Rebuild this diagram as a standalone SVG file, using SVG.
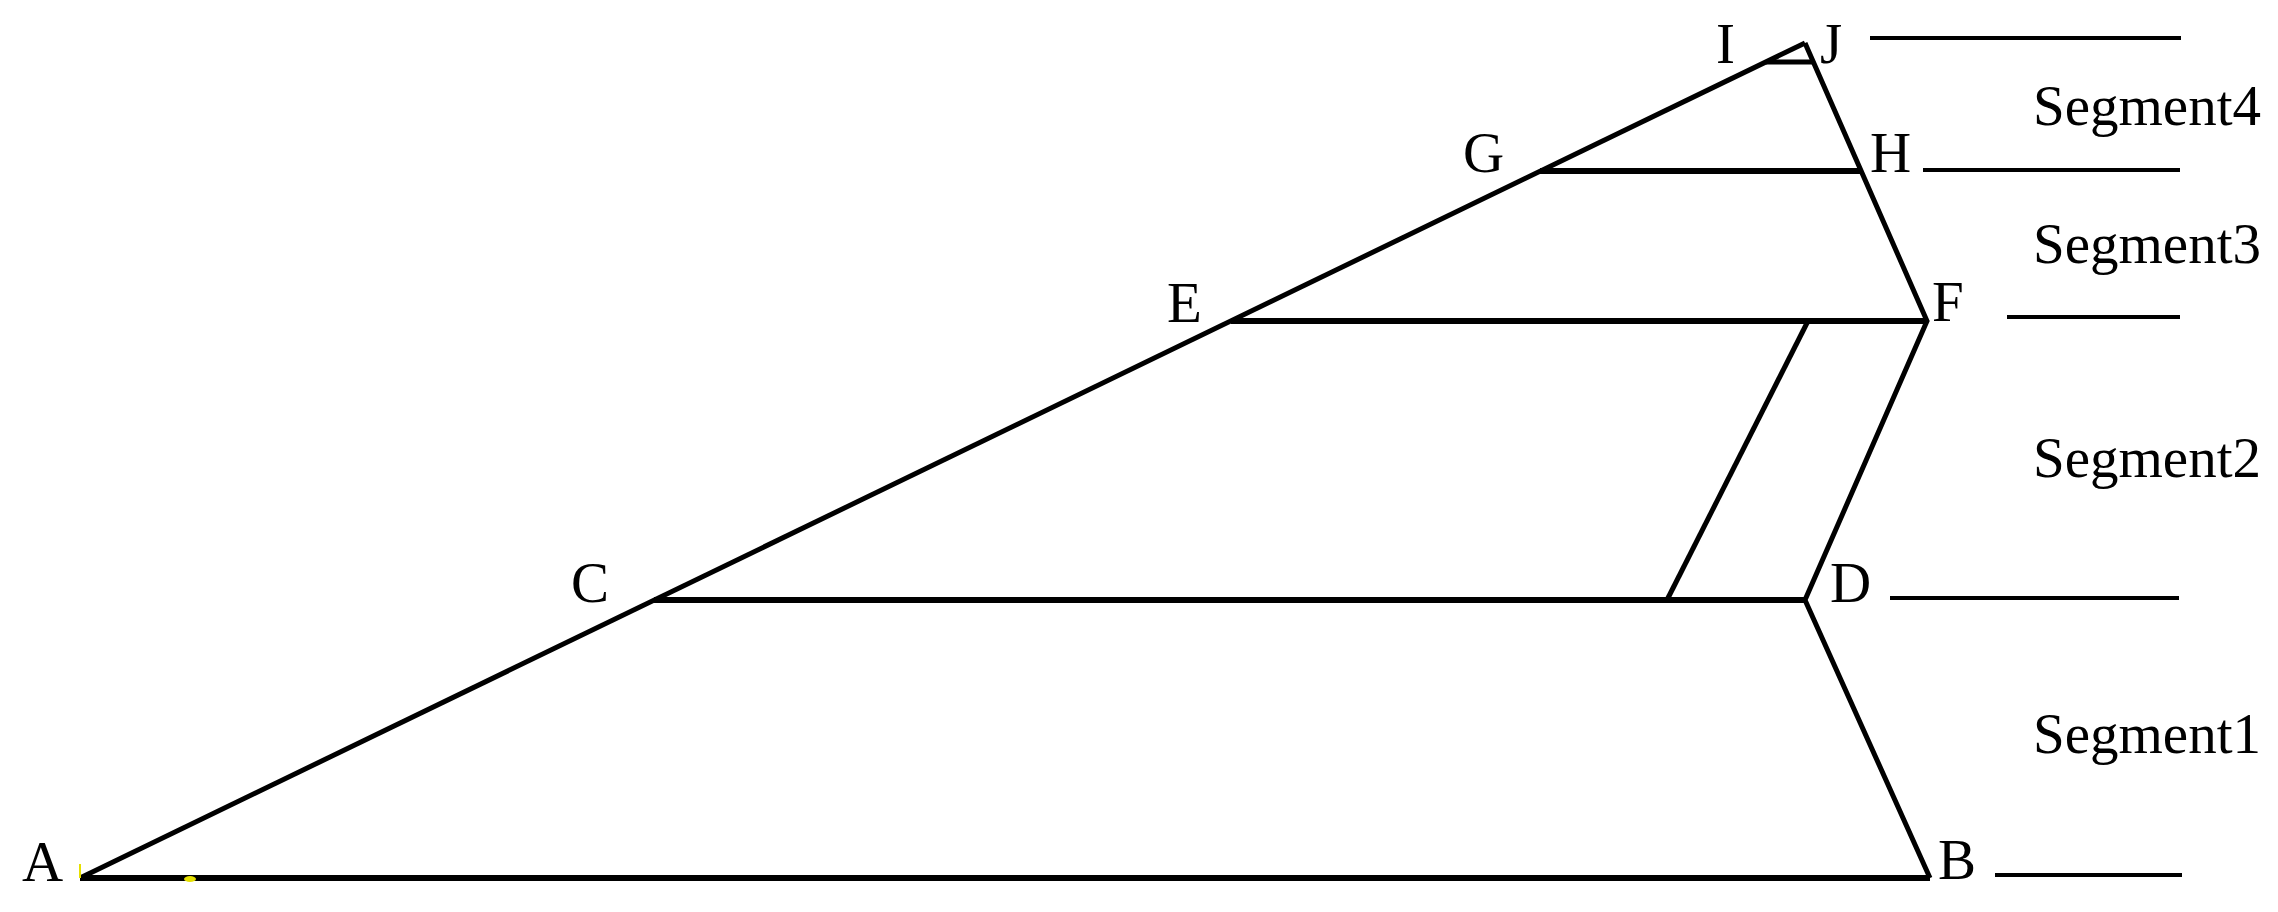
<svg xmlns="http://www.w3.org/2000/svg" width="2278" height="912" viewBox="0 0 2278 912">
<style>
.lbl{font-family:"Liberation Serif","Times New Roman",serif;font-size:57px;fill:#000}
.thick{stroke:#000;stroke-width:6;fill:none;stroke-linecap:butt}
.edge{stroke:#000;stroke-width:5;fill:none;stroke-linejoin:miter}
.tick{stroke:#000;stroke-width:4;fill:none}
</style>
<rect width="2278" height="912" fill="#fff"/>
<g id="connectors">
  <line class="thick" x1="80" y1="878" x2="1930" y2="878"/>
  <line class="thick" x1="654" y1="600" x2="1805" y2="600"/>
  <line class="thick" x1="1231" y1="321" x2="1927" y2="321"/>
  <line class="thick" x1="1540" y1="171" x2="1861" y2="171"/>
  <line class="edge" x1="1766" y1="62" x2="1812" y2="62"/>
  <line class="edge" x1="80" y1="878" x2="1805" y2="43"/>
  <polyline class="edge" points="1805,43 1927,321 1805,600 1930,878"/>
  <line class="edge" x1="1667" y1="600" x2="1808" y2="321"/>
</g>
<g id="ticks">
  <line class="tick" x1="1870" y1="38" x2="2181" y2="38"/>
  <line class="tick" x1="1923" y1="170" x2="2180" y2="170"/>
  <line class="tick" x1="2007" y1="317" x2="2180" y2="317"/>
  <line class="tick" x1="1890" y1="598" x2="2179" y2="598"/>
  <line class="tick" x1="1995" y1="875" x2="2182" y2="875"/>
</g>
<g id="artifacts">
  <line x1="80" y1="864" x2="80" y2="878" stroke="#e6e000" stroke-width="2"/>
  <ellipse cx="190" cy="879" rx="6" ry="3" fill="#e6e000"/>
</g>
<g id="node-A"><text class="lbl" x="22" y="881">A</text></g>
<g id="node-B"><text class="lbl" x="1938" y="879">B</text></g>
<g id="node-C"><text class="lbl" x="571" y="602">C</text></g>
<g id="node-D"><text class="lbl" x="1830" y="602">D</text></g>
<g id="node-E"><text class="lbl" x="1167" y="322">E</text></g>
<g id="node-F"><text class="lbl" x="1932" y="321">F</text></g>
<g id="node-G"><text class="lbl" x="1463" y="172">G</text></g>
<g id="node-H"><text class="lbl" x="1870" y="172">H</text></g>
<g id="node-I"><text class="lbl" x="1716" y="63">I</text></g>
<g id="node-J"><text class="lbl" x="1820" y="63">J</text></g>
<g id="segments">
  <text class="lbl" x="2033" y="125">Segment4</text>
  <text class="lbl" x="2033" y="263">Segment3</text>
  <text class="lbl" x="2033" y="477">Segment2</text>
  <text class="lbl" x="2033" y="753">Segment1</text>
</g>
</svg>
